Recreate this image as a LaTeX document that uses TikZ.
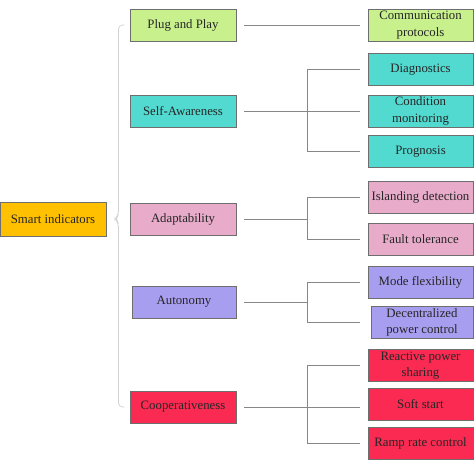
\documentclass[tikz,border=0pt]{standalone}
\usepackage{fontspec}
\setmainfont{Liberation Serif}
\usepackage{tikz}
\usetikzlibrary{arrows}
\usepackage{xcolor}

\definecolor{cgold}{RGB}{255,192,0}
\definecolor{cgreen}{RGB}{200,240,140}
\definecolor{cteal}{RGB}{82,218,208}
\definecolor{cpink}{RGB}{232,172,202}
\definecolor{clav}{RGB}{168,158,240}
\definecolor{cred}{RGB}{250,42,82}
\definecolor{cedge}{RGB}{110,110,110}
\definecolor{cline}{RGB}{135,135,135}
\definecolor{cbrace}{RGB}{210,210,210}

\tikzset{
	item/.style={draw=cedge, line width=0.6pt, minimum width=105pt, minimum height=32pt,
		inner sep=0.5pt, align=center, text=black!85,
		font=\fontsize{12.8}{16.5}\selectfont},
	link/.style={draw=cline, line width=0.7pt},
}

\begin{document}
\begin{tikzpicture}[x=1pt,y=-1pt]
	\useasboundingbox (0,0) rectangle (474,474);
	% root
	\node[item, fill=cgold, minimum width=106pt, minimum height=34pt] (smart) at (53,219){Smart indicators};
	% features
	\node[item, fill=cgreen, minimum width=106pt] (plug) at (183,25){Plug and Play};
	\node[item, fill=cteal, minimum width=106pt] (self) at (183,111){Self-Awareness};
	\node[item, fill=cpink, minimum width=106pt] (adapt) at (183,219){Adaptability};
	\node[item, fill=clav, minimum width=104pt] (auto) at (184,302){Autonomy};
	\node[item, fill=cred, minimum width=106pt] (coop) at (183,407){Cooperativeness};
	% functions
	\node[item, fill=cgreen] (comm) at (420.5,25){Communication\\protocols};
	\node[item, fill=cteal] (diag) at (420.5,69.5){Diagnostics};
	\node[item, fill=cteal] (cond) at (420.5,111){Condition\\monitoring};
	\node[item, fill=cteal] (prog) at (420.5,151.5){Prognosis};
	\node[item, fill=cpink] (isl) at (420.5,197){Islanding detection};
	\node[item, fill=cpink] (fault) at (420.5,239){Fault tolerance};
	\node[item, fill=clav] (mode) at (420.5,282.5){Mode flexibility};
	\node[item, fill=clav, minimum width=102pt] (dec) at (422,322.5){Decentralized\\power control};
	\node[item, fill=cred] (react) at (420.5,365.5){Reactive power\\sharing};
	\node[item, fill=cred] (soft) at (420.5,404.5){Soft start};
	\node[item, fill=cred] (ramp) at (420.5,443.5){Ramp rate control};
	
	% brace
	\draw[cbrace, line width=0.8pt, rounded corners=4pt] ([xshift=-5pt]plug.west) -| (118.5,215) -- (115,219) -- (118.5,223) |- ([xshift=-5pt]coop.west);
	
	% junctions
	\coordinate (selfj) at (307,111);
	\coordinate (adaptj) at (307,219);
	\coordinate (autoj) at (307,302);
	\coordinate (coopj) at (307,407);
	
	\draw[link, shorten <=8pt, shorten >=8pt] (plug.east) -- (comm.west);
	
	\draw[link, shorten <=8pt, shorten >=8pt] (self.east) -- (cond.west);
	\draw[link, shorten >=8pt] (selfj) |- (diag.west);
	\draw[link, shorten >=8pt] (selfj) |- (prog.west);
	
	\draw[link, shorten <=8pt] (adapt.east) -- (adaptj);
	\draw[link, shorten >=8pt] (adaptj) |- (isl.west);
	\draw[link, shorten >=8pt] (adaptj) |- (fault.west);
	
	\draw[link, shorten <=8pt] (auto.east) -- (autoj);
	\draw[link, shorten >=8pt] (autoj) |- (mode.west);
	\draw[link, shorten >=11pt] (autoj) |- (dec.west);
	
	\draw[link, shorten <=8pt, shorten >=8pt] (coop.east) -- (coop.east -| soft.west);
	\draw[link, shorten >=8pt] (coopj) |- (react.west);
	\draw[link, shorten >=8pt] (coopj) |- (ramp.west);
\end{tikzpicture}
\end{document}
